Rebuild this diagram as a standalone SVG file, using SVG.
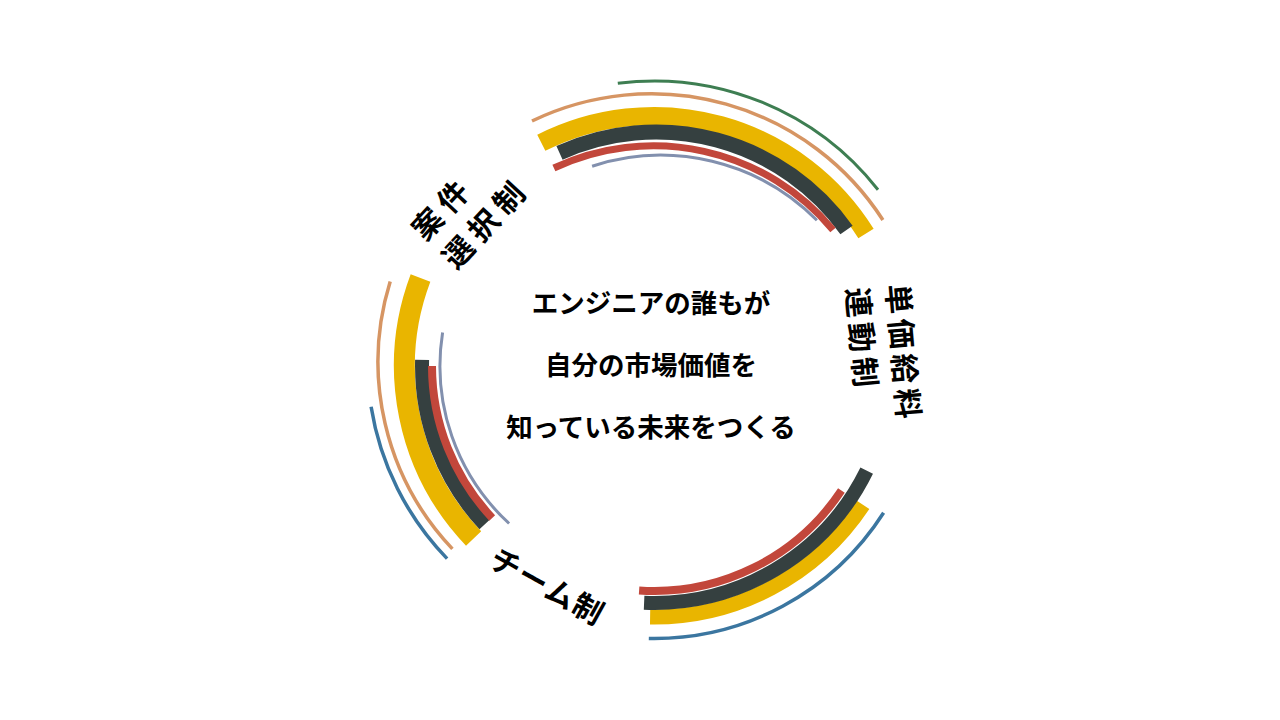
<svg xmlns="http://www.w3.org/2000/svg" width="1280" height="720" viewBox="0 0 1280 720">
  <style>
    .arc { fill: none; stroke-linecap: butt; }
    .yel { stroke: #E9B500; }
    .drk { stroke: #354040; }
    .red { stroke: #C2473B; }
    .bgr { stroke: #8290AE; }
    .org { stroke: #D69563; }
    .grn { stroke: #3E7E52; }
    .blu { stroke: #3B76A0; }
    text { font-family: "Noto Sans CJK JP", "Noto Sans CJK SC", sans-serif; font-weight: bold; fill: #000; text-anchor: middle; dominant-baseline: central; }
    .label { font-size: 30px; }
    .center { font-size: 26.5px; }
  </style>
  <rect x="0" y="0" width="1280" height="720" fill="#FFFFFF"/>

  <g id="connectors">
    <g id="arcs-top">
      <path class="arc yel" stroke-width="18" d="M541.3 142.8 A250 250 0 0 1 866 233.5"/>
      <path class="arc drk" stroke-width="15" d="M559.5 152.8 A234 234 0 0 1 846.5 230"/>
      <path class="arc red" stroke-width="7" d="M553.9 168 A233.7 233.7 0 0 1 833 229.9"/>
      <path class="arc bgr" stroke-width="3" d="M592.1 166.2 A220 220 0 0 1 816.9 220.2"/>
      <path class="arc org" stroke-width="3.5" d="M532 121 A275.4 275.4 0 0 1 882.9 220"/>
      <path class="arc grn" stroke-width="3" d="M617.8 83.3 A285 285 0 0 1 878 189.8"/>
    </g>
    <g id="arcs-left">
      <path class="arc yel" stroke-width="21" d="M473.6 538.4 A249.5 249.5 0 0 1 420.5 278"/>
      <path class="arc drk" stroke-width="14" d="M484.6 524.5 A232 232 0 0 1 422.1 359.9"/>
      <path class="arc red" stroke-width="8" d="M492.2 518 A222 222 0 0 1 432 366"/>
      <path class="arc bgr" stroke-width="3" d="M509.1 523.5 A214 214 0 0 1 442.6 332.5"/>
      <path class="arc org" stroke-width="3.5" d="M452.4 548.9 A272 272 0 0 1 390.2 281.6"/>
      <path class="arc blu" stroke-width="3.5" d="M447.1 558.6 A282.5 282.5 0 0 1 371.1 406.7"/>
    </g>
    <g id="arcs-right">
      <path class="arc blu" stroke-width="3.5" d="M883.6 512.8 A272.5 272.5 0 0 1 648.8 638.4"/>
      <path class="arc yel" stroke-width="15" d="M863.1 504.9 A251 251 0 0 1 650.1 617"/>
      <path class="arc drk" stroke-width="14" d="M866.7 470.6 A237 237 0 0 1 644.1 602.8"/>
      <path class="arc red" stroke-width="8" d="M841.4 490.5 A225 225 0 0 1 639.1 590.5"/>
    </g>
  </g>

  <g id="node-center">
    <text class="center" x="651" y="301">エンジニアの誰もが</text>
    <text class="center" x="651" y="363">自分の市場価値を</text>
    <text class="center" x="651" y="425">知っている未来をつくる</text>
  </g>

  <g id="node-anken" transform="translate(457,251) rotate(-47)">
    <text class="label" x="0 37" y="-42">案件</text>
    <text class="label" x="0 37 74" y="0">選択制</text>
  </g>

  <g id="node-tanka" transform="translate(900.4,298.7) rotate(85)">
    <text class="label" x="0 35 70 105" y="0">単価給料</text>
    <text class="label" x="0 35 70" y="40">連動制</text>
  </g>

  <g id="node-team" transform="translate(506.7,561.7) rotate(29)">
    <text class="label" x="0 31.3 62.6 93.9" y="0">チーム制</text>
  </g>
</svg>
